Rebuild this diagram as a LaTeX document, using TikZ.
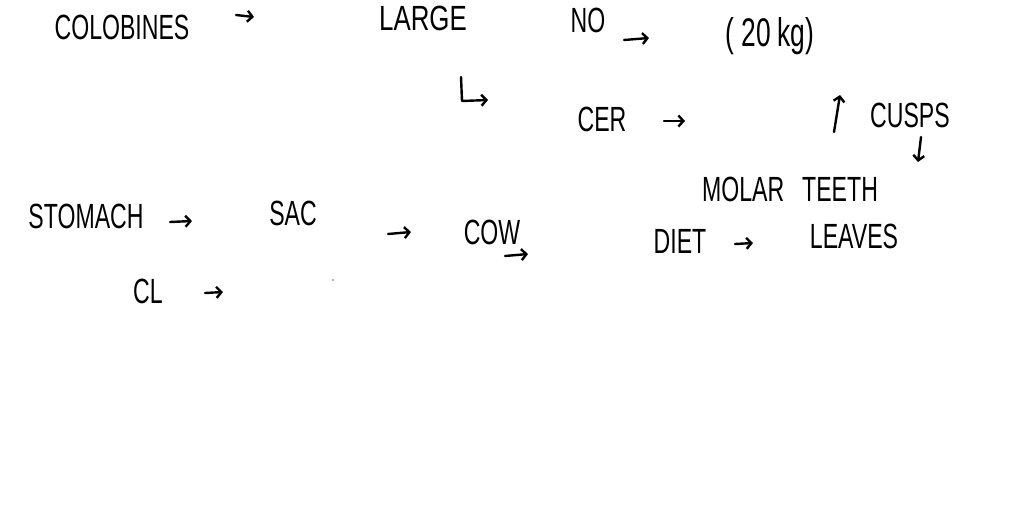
\documentclass[tikz,border=0pt]{standalone}
\usepackage{fontspec}
\setmainfont{Liberation Sans}[FakeStretch=0.66]
\usetikzlibrary{arrows.meta}
\tikzset{
  hw/.style={inner sep=0pt, font=\fontsize{35}{35}\selectfont, text=black},
  harrow/.style={line width=2.4pt, line cap=round, line join=round, -{Straight Barb[length=5pt,width=11pt]}},
  stroke/.style={line width=2.4pt, line cap=round, line join=round}
}
\begin{document}
\begin{tikzpicture}[x=1pt,y=-1pt]
\useasboundingbox[fill=white] (0,0) rectangle (1024,512);
% words
\node[hw] (colobines) at (122,27) {COLOBINES};
\node[hw, xscale=1.12, transform shape] (large) at (423,18) {LARGE};
\node[hw] (no) at (588,20) {NO};
\node[hw] (kg) at (770,36) {\fontsize{40}{40}\selectfont(\,20\,kg)};
\node[hw] (cer) at (602,119) {CER};
\node[hw] (cusps) at (910,115) {CUSPS};
\node[hw] (molar) at (790,189) {MOLAR\hspace{18pt}TEETH};
\node[hw] (diet) at (680,241) {DIET};
\node[hw] (leaves) at (854,236) {LEAVES};
\node[hw] (stomach) at (86,216) {STOMACH};
\node[hw] (sac) at (293,213) {SAC};
\node[hw] (cow) at (492,232) {COW};
\node[hw] (cl) at (148,291) {CL};
% arrow end points
\coordinate (a1s) at (236,15); \coordinate (a1e) at (254,17);
\coordinate (a2s) at (624,40); \coordinate (a2e) at (649,38);
\coordinate (a3s) at (664,121); \coordinate (a3e) at (685,121);
\coordinate (a4s) at (170,222); \coordinate (a4e) at (192,221);
\coordinate (a5s) at (388,234); \coordinate (a5e) at (411,232);
\coordinate (a6s) at (505,256); \coordinate (a6e) at (528,254);
\coordinate (a7s) at (735,244); \coordinate (a7e) at (753,243);
\coordinate (a8s) at (205,293); \coordinate (a8e) at (223,292);
\coordinate (ups) at (834,132); \coordinate (upe) at (840,95);
\coordinate (dns) at (921,137); \coordinate (dne) at (918,162);
\coordinate (hk1) at (461,77); \coordinate (hk2) at (462,101); \coordinate (hk3) at (488,100);
% arrows
\draw[harrow] (a1s) -- (a1e);
\draw[harrow] (a2s) -- (a2e);
\draw[harrow] (a3s) -- (a3e);
\draw[harrow] (a4s) -- (a4e);
\draw[harrow] (a5s) -- (a5e);
\draw[harrow] (a6s) -- (a6e);
\draw[harrow] (a7s) -- (a7e);
\draw[harrow] (a8s) -- (a8e);
\draw[harrow] (ups) -- (upe);
\draw[harrow] (dns) -- (dne);
\draw[harrow] (hk1) -- (hk2) -- (hk3);
% stray dot
\fill[gray!60] (333,280) circle (1.3pt);
\end{tikzpicture}
\end{document}
